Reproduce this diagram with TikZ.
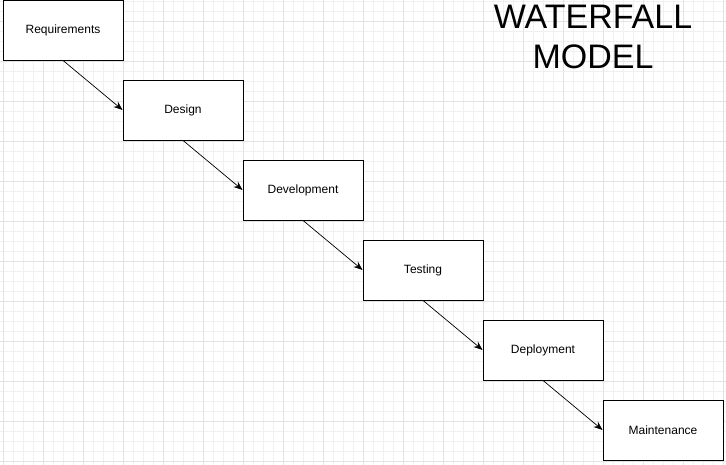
\documentclass[tikz,border=0pt]{standalone}
\usepackage{fontspec}
\setmainfont{Liberation Sans}
\usetikzlibrary{arrows.meta}
\begin{document}
\begin{tikzpicture}[x=1pt,y=-1pt,
  box/.style={draw,line width=0.9pt,minimum width=120pt,minimum height=60pt,inner sep=0pt,font=\fontsize{12}{14}\selectfont,fill=white},
  arr/.style={-{Stealth[length=9pt,width=7pt]},line width=0.7pt}]
\useasboundingbox (0,0) rectangle (726,465);
\fill[white] (0,0) rectangle (726,465);
\foreach \x in {3,13,...,723} \draw[black!6,line width=0.6pt] (\x,0) -- (\x,465);
\foreach \y in {1,11,...,461} \draw[black!6,line width=0.6pt] (0,\y) -- (726,\y);
\foreach \x in {3,43,...,723} \draw[black!11,line width=0.8pt] (\x,0) -- (\x,465);
\foreach \y in {21,61,...,461} \draw[black!11,line width=0.8pt] (0,\y) -- (726,\y);
\node[box] (a) at (63,30) {Requirements};
\node[box] (b) at (183,110) {Design};
\node[box] (c) at (303,190) {Development};
\node[box] (d) at (423,270) {Testing};
\node[box] (e) at (543,350) {Deployment};
\node[box] (f) at (663,430) {Maintenance};
\node[font=\fontsize{34}{40}\selectfont,align=center] (t) at (593,37) {WATERFALL\\MODEL};
\draw[arr] (a.south) -- (b.west);
\draw[arr] (b.south) -- (c.west);
\draw[arr] (c.south) -- (d.west);
\draw[arr] (d.south) -- (e.west);
\draw[arr] (e.south) -- (f.west);
\end{tikzpicture}
\end{document}
